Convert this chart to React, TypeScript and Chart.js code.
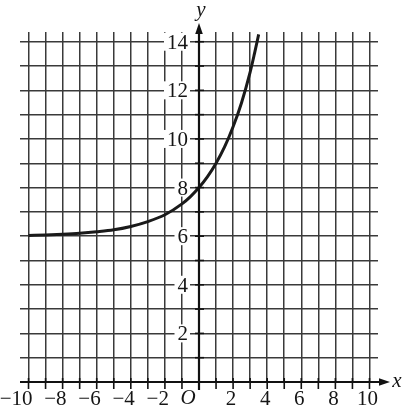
import React, { useEffect, useRef } from 'react';
import { Chart, registerables } from 'chart.js';
Chart.register(...registerables);

// curve points
const xValues = [-10, -9, -8, -7, -6, -5, -4, -3, -2, -1, -0.5, 0, 0.5, 1, 1.5, 2, 2.5, 3, 3.25, 3.5];
const yValues = [6.03, 6.05, 6.08, 6.12, 6.18, 6.26, 6.4, 6.6, 6.88, 7.33, 7.63, 8, 8.45, 9, 9.67, 10.5, 11.5, 12.75, 13.5, 14.3];

const xTickLabels = [-10, -8, -6, -4, -2, 2, 4, 6, 8, 10];
const yTickLabels = [2, 4, 6, 8, 10, 12, 14];

const FONT = '"Liberation Serif", "DejaVu Serif", serif';

const intTicks = (from: number, to: number) => {
	const out: { value: number }[] = [];
	for (let v = from; v <= to; v++) out.push({ value: v });
	return out;
};

const axesPlugin = {
	id: 'mathAxes',
	beforeDatasetsDraw(chart: any) {
		const { ctx } = chart;
		const xs = chart.scales.x;
		const ys = chart.scales.y;
		const x0 = xs.getPixelForValue(0);
		ctx.save();
		ctx.font = `21px ${FONT}`;
		ctx.textAlign = 'right';
		ctx.textBaseline = 'alphabetic';
		yTickLabels.forEach((v) => {
			const py = ys.getPixelForValue(v);
			const txt = String(v);
			const w = ctx.measureText(txt).width;
			const right = x0 - 11;
			ctx.fillStyle = '#fff';
			ctx.fillRect(right - w - 3, py - 9, w + 5, 18);
			ctx.fillStyle = '#151515';
			ctx.fillText(txt, right, py + 7);
		});
		ctx.restore();
	},
	afterDraw(chart: any) {
		const { ctx, chartArea } = chart;
		const xs = chart.scales.x;
		const ys = chart.scales.y;
		const x0 = xs.getPixelForValue(0);
		const y0 = ys.getPixelForValue(0);
		ctx.save();
		ctx.strokeStyle = '#111';
		ctx.fillStyle = '#111';

		// tick marks
		ctx.lineWidth = 1.6;
		for (let v = -10; v <= 10; v++) {
			const px = xs.getPixelForValue(v);
			ctx.beginPath();
			ctx.moveTo(px, y0 - 4);
			ctx.lineTo(px, y0 + 7);
			ctx.stroke();
		}
		for (let v = 1; v <= 14; v++) {
			const py = ys.getPixelForValue(v);
			ctx.beginPath();
			ctx.moveTo(x0 - 4, py);
			ctx.lineTo(x0 + 5, py);
			ctx.stroke();
		}

		// axes
		ctx.lineWidth = 2.2;
		ctx.beginPath();
		ctx.moveTo(chartArea.left, y0);
		ctx.lineTo(chartArea.right + 8, y0);
		ctx.moveTo(x0, y0 + 8);
		ctx.lineTo(x0, chartArea.top - 2);
		ctx.stroke();

		// arrow heads
		const xTip = chartArea.right + 12;
		ctx.beginPath();
		ctx.moveTo(xTip, y0);
		ctx.lineTo(xTip - 11, y0 - 3.8);
		ctx.lineTo(xTip - 11, y0 + 3.8);
		ctx.closePath();
		ctx.fill();
		const yTip = chartArea.top - 9;
		ctx.beginPath();
		ctx.moveTo(x0, yTip);
		ctx.lineTo(x0 - 3.8, yTip + 11);
		ctx.lineTo(x0 + 3.8, yTip + 11);
		ctx.closePath();
		ctx.fill();

		// x labels
		ctx.fillStyle = '#151515';
		ctx.font = `21px ${FONT}`;
		ctx.textBaseline = 'alphabetic';
		xTickLabels.forEach((v) => {
			const px = xs.getPixelForValue(v);
			if (v < 0) {
				ctx.textAlign = 'right';
				ctx.fillText('\u2212' + Math.abs(v), px + 4, y0 + 23);
			} else {
				ctx.textAlign = 'center';
				ctx.fillText(String(v), px - 2, y0 + 23);
			}
		});

		// origin and axis names
		ctx.font = `italic 21px ${FONT}`;
		ctx.textAlign = 'center';
		ctx.fillText('O', x0 - 11, y0 + 22);
		ctx.fillText('x', xTip + 7, y0 + 5);
		ctx.fillText('y', x0 + 2, yTip - 7);
		ctx.restore();
	},
};

const App = () => {
	const canvasRef = useRef<HTMLCanvasElement>(null);

	useEffect(() => {
		if (!canvasRef.current) return;
		const chart = new Chart(canvasRef.current, {
			type: 'scatter',
			data: {
				datasets: [
					{
						data: xValues.map((x, i) => ({ x, y: yValues[i] })),
						showLine: true,
						borderColor: '#1a1a1a',
						borderWidth: 3,
						pointRadius: 0,
						cubicInterpolationMode: 'monotone',
					},
				],
			},
			options: {
				responsive: false,
				animation: false,
				layout: { padding: { left: 20, right: 27, top: 32, bottom: 32 } },
				plugins: { legend: { display: false }, tooltip: { enabled: false } },
				scales: {
					x: {
						type: 'linear',
						min: -10.5,
						max: 10.5,
						ticks: { display: false, stepSize: 1 },
						border: { display: false },
						grid: { drawTicks: false, color: '#3a3a3a', lineWidth: 1.5 },
						afterBuildTicks: (scale: any) => {
							scale.ticks = intTicks(-10, 10);
						},
					},
					y: {
						type: 'linear',
						min: 0,
						max: 14.4,
						ticks: { display: false, stepSize: 1 },
						border: { display: false },
						grid: { drawTicks: false, color: '#3a3a3a', lineWidth: 1.5 },
						afterBuildTicks: (scale: any) => {
							scale.ticks = intTicks(0, 14);
						},
					},
				},
			},
			plugins: [axesPlugin],
		});
		return () => chart.destroy();
	}, []);

	return (
		<div style={{ position: 'fixed', left: 0, top: 0, width: 405, height: 414, background: '#fff' }}>
			<canvas ref={canvasRef} width={405} height={414} style={{ width: 405, height: 414 }} />
		</div>
	);
};

export default App;
